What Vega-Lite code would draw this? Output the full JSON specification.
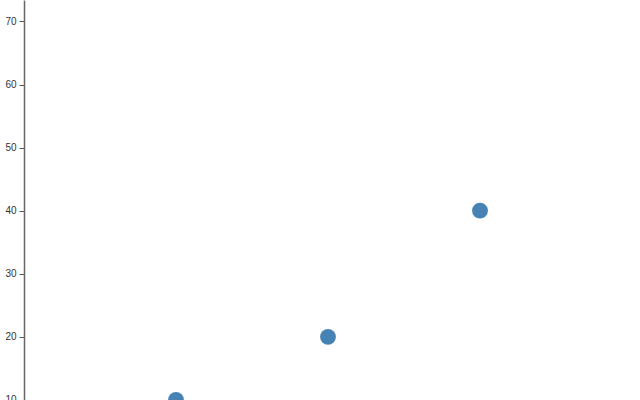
{
  "$schema": "https://vega.github.io/schema/vega-lite/v6.json",
  "autosize": "none",
  "padding": {"left": 24, "top": 0, "right": 8, "bottom": 0},
  "width": 608,
  "height": 463,
  "config": {"view": {"stroke": null}},
  "data": {
    "values": [
      {"x": 1, "y": 10},
      {"x": 2, "y": 20},
      {"x": 3, "y": 40}
    ]
  },
  "mark": {"type": "circle", "size": 250, "color": "#4682b4", "opacity": 1},
  "encoding": {
    "x": {
      "field": "x",
      "type": "quantitative",
      "scale": {"domain": [0, 4]},
      "axis": null
    },
    "y": {
      "field": "y",
      "type": "quantitative",
      "scale": {"domain": [0, 73.4], "nice": false, "zero": false},
      "axis": {
        "values": [0, 10, 20, 30, 40, 50, 60, 70],
        "title": null,
        "grid": false,
        "domainColor": "#666666",
        "domainWidth": 1.5,
        "tickColor": "#555555",
        "tickSize": 5,
        "labelPadding": 3,
        "labelFont": "Liberation Sans",
        "labelFontSize": 10,
        "labelColor": "#333333",
        "labelFlush": false
      }
    }
  }
}
